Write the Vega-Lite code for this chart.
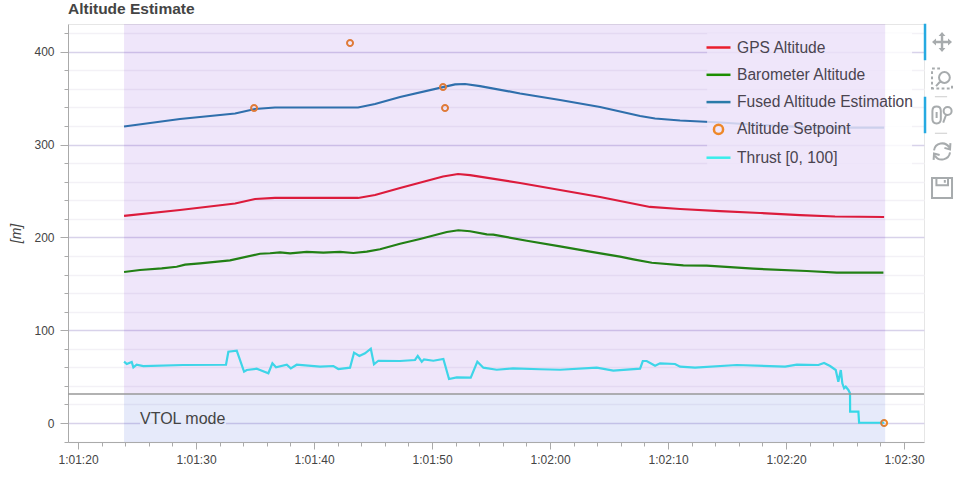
{
  "$schema": "https://vega.github.io/schema/vega-lite/v6.json",
  "description": "Altitude estimate over flight time with a plot toolbar.",
  "background": "white",
  "padding": {"left": 9, "top": 1, "right": 0, "bottom": 0},
  "spacing": 0,
  "bounds": "flush",
  "resolve": {"scale": {"color": "independent", "shape": "independent", "fill": "independent"}, "legend": {"color": "independent", "shape": "independent"}},
  "datasets": {
    "series": [
      {"t": 3683.9, "value": 223.1, "series": "GPS Altitude"},
      {"t": 3688.64, "value": 229.5, "series": "GPS Altitude"},
      {"t": 3693.31, "value": 236.5, "series": "GPS Altitude"},
      {"t": 3695.0, "value": 241.4, "series": "GPS Altitude"},
      {"t": 3696.69, "value": 242.5, "series": "GPS Altitude"},
      {"t": 3703.73, "value": 242.5, "series": "GPS Altitude"},
      {"t": 3705.17, "value": 245.7, "series": "GPS Altitude"},
      {"t": 3707.29, "value": 253.2, "series": "GPS Altitude"},
      {"t": 3710.93, "value": 265.6, "series": "GPS Altitude"},
      {"t": 3712.2, "value": 268.3, "series": "GPS Altitude"},
      {"t": 3713.22, "value": 267.2, "series": "GPS Altitude"},
      {"t": 3717.46, "value": 258.6, "series": "GPS Altitude"},
      {"t": 3724.24, "value": 243.5, "series": "GPS Altitude"},
      {"t": 3728.47, "value": 232.8, "series": "GPS Altitude"},
      {"t": 3731.02, "value": 230.6, "series": "GPS Altitude"},
      {"t": 3734.41, "value": 228.4, "series": "GPS Altitude"},
      {"t": 3737.8, "value": 226.3, "series": "GPS Altitude"},
      {"t": 3741.19, "value": 224.1, "series": "GPS Altitude"},
      {"t": 3744.15, "value": 222.5, "series": "GPS Altitude"},
      {"t": 3748.31, "value": 222, "series": "GPS Altitude"},
      {"t": 3683.9, "value": 162.7, "series": "Barometer Altitude"},
      {"t": 3685.25, "value": 164.9, "series": "Barometer Altitude"},
      {"t": 3687.09, "value": 166.7, "series": "Barometer Altitude"},
      {"t": 3688.36, "value": 168.4, "series": "Barometer Altitude"},
      {"t": 3689.07, "value": 170.6, "series": "Barometer Altitude"},
      {"t": 3690.34, "value": 172.1, "series": "Barometer Altitude"},
      {"t": 3692.88, "value": 175.3, "series": "Barometer Altitude"},
      {"t": 3695.42, "value": 182.4, "series": "Barometer Altitude"},
      {"t": 3696.27, "value": 182.9, "series": "Barometer Altitude"},
      {"t": 3697.12, "value": 183.9, "series": "Barometer Altitude"},
      {"t": 3697.97, "value": 182.9, "series": "Barometer Altitude"},
      {"t": 3699.38, "value": 184.3, "series": "Barometer Altitude"},
      {"t": 3700.79, "value": 183.5, "series": "Barometer Altitude"},
      {"t": 3702.2, "value": 184.3, "series": "Barometer Altitude"},
      {"t": 3703.33, "value": 183.2, "series": "Barometer Altitude"},
      {"t": 3704.47, "value": 184.6, "series": "Barometer Altitude"},
      {"t": 3705.59, "value": 187.2, "series": "Barometer Altitude"},
      {"t": 3707.29, "value": 193.2, "series": "Barometer Altitude"},
      {"t": 3708.98, "value": 198.3, "series": "Barometer Altitude"},
      {"t": 3711.25, "value": 205.8, "series": "Barometer Altitude"},
      {"t": 3712.23, "value": 207.7, "series": "Barometer Altitude"},
      {"t": 3713.22, "value": 206.6, "series": "Barometer Altitude"},
      {"t": 3714.64, "value": 203.3, "series": "Barometer Altitude"},
      {"t": 3715.19, "value": 202.9, "series": "Barometer Altitude"},
      {"t": 3718.03, "value": 196.4, "series": "Barometer Altitude"},
      {"t": 3720.85, "value": 190.4, "series": "Barometer Altitude"},
      {"t": 3723.39, "value": 184.6, "series": "Barometer Altitude"},
      {"t": 3725.93, "value": 179.2, "series": "Barometer Altitude"},
      {"t": 3727.06, "value": 176.4, "series": "Barometer Altitude"},
      {"t": 3728.62, "value": 172.7, "series": "Barometer Altitude"},
      {"t": 3731.3, "value": 169.9, "series": "Barometer Altitude"},
      {"t": 3733.28, "value": 169.5, "series": "Barometer Altitude"},
      {"t": 3737.23, "value": 166.3, "series": "Barometer Altitude"},
      {"t": 3741.75, "value": 163.8, "series": "Barometer Altitude"},
      {"t": 3744.3, "value": 162, "series": "Barometer Altitude"},
      {"t": 3748.25, "value": 162, "series": "Barometer Altitude"},
      {"t": 3683.9, "value": 319.5, "series": "Fused Altitude Estimation"},
      {"t": 3688.64, "value": 327.6, "series": "Fused Altitude Estimation"},
      {"t": 3693.31, "value": 333.5, "series": "Fused Altitude Estimation"},
      {"t": 3695.0, "value": 338.4, "series": "Fused Altitude Estimation"},
      {"t": 3696.69, "value": 340, "series": "Fused Altitude Estimation"},
      {"t": 3698.81, "value": 340, "series": "Fused Altitude Estimation"},
      {"t": 3703.73, "value": 340, "series": "Fused Altitude Estimation"},
      {"t": 3705.17, "value": 343.8, "series": "Fused Altitude Estimation"},
      {"t": 3707.29, "value": 351.3, "series": "Fused Altitude Estimation"},
      {"t": 3710.93, "value": 362, "series": "Fused Altitude Estimation"},
      {"t": 3711.95, "value": 364.8, "series": "Fused Altitude Estimation"},
      {"t": 3712.8, "value": 365.3, "series": "Fused Altitude Estimation"},
      {"t": 3714.07, "value": 363.1, "series": "Fused Altitude Estimation"},
      {"t": 3717.46, "value": 355.1, "series": "Fused Altitude Estimation"},
      {"t": 3720.85, "value": 348.1, "series": "Fused Altitude Estimation"},
      {"t": 3724.24, "value": 340.5, "series": "Fused Altitude Estimation"},
      {"t": 3727.63, "value": 330.8, "series": "Fused Altitude Estimation"},
      {"t": 3728.9, "value": 328.1, "series": "Fused Altitude Estimation"},
      {"t": 3731.02, "value": 326, "series": "Fused Altitude Estimation"},
      {"t": 3734.41, "value": 323.8, "series": "Fused Altitude Estimation"},
      {"t": 3737.8, "value": 321.1, "series": "Fused Altitude Estimation"},
      {"t": 3741.19, "value": 319, "series": "Fused Altitude Estimation"},
      {"t": 3743.73, "value": 318.4, "series": "Fused Altitude Estimation"},
      {"t": 3748.31, "value": 318.4, "series": "Fused Altitude Estimation"},
      {"t": 3683.9, "value": 66.1, "series": "Thrust [0, 100]"},
      {"t": 3684.13, "value": 63.6, "series": "Thrust [0, 100]"},
      {"t": 3684.55, "value": 65.7, "series": "Thrust [0, 100]"},
      {"t": 3684.69, "value": 60, "series": "Thrust [0, 100]"},
      {"t": 3684.97, "value": 62.8, "series": "Thrust [0, 100]"},
      {"t": 3685.53, "value": 61.4, "series": "Thrust [0, 100]"},
      {"t": 3688.9, "value": 62.5, "series": "Thrust [0, 100]"},
      {"t": 3692.54, "value": 62.8, "series": "Thrust [0, 100]"},
      {"t": 3692.74, "value": 76.8, "series": "Thrust [0, 100]"},
      {"t": 3693.45, "value": 77.9, "series": "Thrust [0, 100]"},
      {"t": 3694.07, "value": 55.3, "series": "Thrust [0, 100]"},
      {"t": 3694.3, "value": 57.1, "series": "Thrust [0, 100]"},
      {"t": 3695.14, "value": 58.5, "series": "Thrust [0, 100]"},
      {"t": 3695.42, "value": 57.1, "series": "Thrust [0, 100]"},
      {"t": 3696.13, "value": 53.6, "series": "Thrust [0, 100]"},
      {"t": 3696.47, "value": 64.3, "series": "Thrust [0, 100]"},
      {"t": 3696.78, "value": 60, "series": "Thrust [0, 100]"},
      {"t": 3697.69, "value": 62.8, "series": "Thrust [0, 100]"},
      {"t": 3698.03, "value": 58.9, "series": "Thrust [0, 100]"},
      {"t": 3698.53, "value": 62.8, "series": "Thrust [0, 100]"},
      {"t": 3700.51, "value": 60.7, "series": "Thrust [0, 100]"},
      {"t": 3701.64, "value": 61.4, "series": "Thrust [0, 100]"},
      {"t": 3702.06, "value": 58.2, "series": "Thrust [0, 100]"},
      {"t": 3703.05, "value": 59.6, "series": "Thrust [0, 100]"},
      {"t": 3703.39, "value": 75.8, "series": "Thrust [0, 100]"},
      {"t": 3703.84, "value": 72.2, "series": "Thrust [0, 100]"},
      {"t": 3704.32, "value": 75.1, "series": "Thrust [0, 100]"},
      {"t": 3704.81, "value": 80.1, "series": "Thrust [0, 100]"},
      {"t": 3705.08, "value": 63.3, "series": "Thrust [0, 100]"},
      {"t": 3705.45, "value": 67.1, "series": "Thrust [0, 100]"},
      {"t": 3707.29, "value": 66.8, "series": "Thrust [0, 100]"},
      {"t": 3708.56, "value": 67.9, "series": "Thrust [0, 100]"},
      {"t": 3708.79, "value": 72.2, "series": "Thrust [0, 100]"},
      {"t": 3709.13, "value": 66.1, "series": "Thrust [0, 100]"},
      {"t": 3709.32, "value": 68.6, "series": "Thrust [0, 100]"},
      {"t": 3710.11, "value": 67.1, "series": "Thrust [0, 100]"},
      {"t": 3710.96, "value": 69, "series": "Thrust [0, 100]"},
      {"t": 3711.44, "value": 47.4, "series": "Thrust [0, 100]"},
      {"t": 3712.09, "value": 49.2, "series": "Thrust [0, 100]"},
      {"t": 3713.28, "value": 48.8, "series": "Thrust [0, 100]"},
      {"t": 3713.84, "value": 66.1, "series": "Thrust [0, 100]"},
      {"t": 3714.35, "value": 59.6, "series": "Thrust [0, 100]"},
      {"t": 3715.48, "value": 57.4, "series": "Thrust [0, 100]"},
      {"t": 3716.86, "value": 58.9, "series": "Thrust [0, 100]"},
      {"t": 3719.15, "value": 57.9, "series": "Thrust [0, 100]"},
      {"t": 3720.85, "value": 57.4, "series": "Thrust [0, 100]"},
      {"t": 3723.96, "value": 59.6, "series": "Thrust [0, 100]"},
      {"t": 3725.36, "value": 56.4, "series": "Thrust [0, 100]"},
      {"t": 3727.63, "value": 58.5, "series": "Thrust [0, 100]"},
      {"t": 3727.86, "value": 66.8, "series": "Thrust [0, 100]"},
      {"t": 3728.19, "value": 66.8, "series": "Thrust [0, 100]"},
      {"t": 3728.9, "value": 61.7, "series": "Thrust [0, 100]"},
      {"t": 3729.32, "value": 64.3, "series": "Thrust [0, 100]"},
      {"t": 3730.59, "value": 63.6, "series": "Thrust [0, 100]"},
      {"t": 3731.02, "value": 60.7, "series": "Thrust [0, 100]"},
      {"t": 3732.29, "value": 59.6, "series": "Thrust [0, 100]"},
      {"t": 3735.82, "value": 62.5, "series": "Thrust [0, 100]"},
      {"t": 3739.92, "value": 60.7, "series": "Thrust [0, 100]"},
      {"t": 3740.91, "value": 62.8, "series": "Thrust [0, 100]"},
      {"t": 3742.74, "value": 62.5, "series": "Thrust [0, 100]"},
      {"t": 3743.22, "value": 64.7, "series": "Thrust [0, 100]"},
      {"t": 3743.73, "value": 61.4, "series": "Thrust [0, 100]"},
      {"t": 3744.21, "value": 57.1, "series": "Thrust [0, 100]"},
      {"t": 3744.43, "value": 44.5, "series": "Thrust [0, 100]"},
      {"t": 3744.64, "value": 57.1, "series": "Thrust [0, 100]"},
      {"t": 3744.77, "value": 42.8, "series": "Thrust [0, 100]"},
      {"t": 3744.92, "value": 37.4, "series": "Thrust [0, 100]"},
      {"t": 3745.06, "value": 39.1, "series": "Thrust [0, 100]"},
      {"t": 3745.28, "value": 35.6, "series": "Thrust [0, 100]"},
      {"t": 3745.42, "value": 32, "series": "Thrust [0, 100]"},
      {"t": 3745.43, "value": 12.2, "series": "Thrust [0, 100]"},
      {"t": 3746.13, "value": 12.2, "series": "Thrust [0, 100]"},
      {"t": 3746.19, "value": 0.3, "series": "Thrust [0, 100]"},
      {"t": 3748.31, "value": 0.3, "series": "Thrust [0, 100]"},
      {"t": 3694.92, "value": 339.4, "series": "Altitude Setpoint"},
      {"t": 3703.05, "value": 409.5, "series": "Altitude Setpoint"},
      {"t": 3710.93, "value": 362.1, "series": "Altitude Setpoint"},
      {"t": 3711.1, "value": 339.4, "series": "Altitude Setpoint"},
      {"t": 3748.31, "value": 0, "series": "Altitude Setpoint"}
    ],
    "modes": [
      {"mode": "Fixed wing", "start": 3683.9, "end": 3748.4, "low": 31.25, "high": 429.96},
      {"mode": "VTOL", "start": 3683.9, "end": 3748.4, "low": -20.47, "high": 31.25}
    ],
    "tools": [
      {"tool": "pan", "slot": 0},
      {"tool": "box zoom", "slot": 1},
      {"tool": "wheel zoom", "slot": 2},
      {"tool": "reset", "slot": 3},
      {"tool": "save", "slot": 4}
    ],
    "active": [
      {"tool": "pan", "from": -0.5, "to": 0.5},
      {"tool": "wheel zoom", "from": 1.5, "to": 2.5}
    ],
    "separators": [{"slot": 1.5}, {"slot": 2.5}]
  },
  "hconcat": [
    {
      "width": 856,
      "height": 418,
      "title": {"text": "Altitude Estimate", "anchor": "start", "frame": "group", "fontSize": 15.5, "fontWeight": "bold", "color": "#444444", "offset": 6.5},
      "resolve": {"axis": {"x": "independent", "y": "independent"}},
      "layer": [
        {
          "data": {"values": [{"t": 3700, "value": 100}]},
          "mark": {"type": "point", "opacity": 0},
          "encoding": {
            "x": {
              "field": "t", "type": "quantitative", "title": null,
              "scale": {"domain": [3679.15, 3751.69], "nice": false, "zero": false},
              "axis": {"orient": "bottom", "values": [3680, 3682, 3684, 3686, 3688, 3690, 3692, 3694, 3696, 3698, 3700, 3702, 3704, 3706, 3708, 3710, 3712, 3714, 3716, 3718, 3720, 3722, 3724, 3726, 3728, 3730, 3732, 3734, 3736, 3738, 3740, 3742, 3744, 3746, 3748, 3750], "labels": false, "domain": false, "grid": false, "tickSize": 4, "tickColor": "#aaaaaa"}
            },
            "y": {
              "field": "value", "type": "quantitative", "title": null,
              "scale": {"domain": [-20.47, 429.96], "nice": false, "zero": false},
              "axis": {"orient": "left", "values": [-20, 20, 40, 60, 80, 120, 140, 160, 180, 220, 240, 260, 280, 320, 340, 360, 380, 420], "labels": false, "domain": false, "grid": true, "gridColor": "#f3f1f6", "gridWidth": 1.5, "tickSize": 4, "tickColor": "#aaaaaa"}
            }
          }
        },
        {
          "data": {"name": "series"},
          "transform": [{"filter": "datum.series !== 'Altitude Setpoint'"}],
          "mark": {"type": "line", "strokeWidth": 2.2, "clip": true},
          "encoding": {
            "x": {
              "field": "t", "type": "quantitative", "title": null,
              "scale": {"domain": [3679.15, 3751.69], "nice": false, "zero": false},
              "axis": {"orient": "bottom", "values": [3680, 3690, 3700, 3710, 3720, 3730, 3740, 3750], "labelExpr": "utcFormat(datum.value * 1000, '%-H:%M:%S')", "grid": false, "tickSize": 7, "tickColor": "#aaaaaa", "domainColor": "#aaaaaa", "labelFontSize": 12, "labelColor": "#444444", "labelPadding": 5, "labelFlush": false}
            },
            "y": {
              "field": "value", "type": "quantitative", "title": "[m]",
              "scale": {"domain": [-20.47, 429.96], "nice": false, "zero": false},
              "axis": {"orient": "left", "values": [0, 100, 200, 300, 400], "grid": true, "gridColor": "#d8d2ea", "gridWidth": 1.5, "tickSize": 8, "tickColor": "#aaaaaa", "domainColor": "#aaaaaa", "labelFontSize": 12, "labelColor": "#444444", "labelPadding": 6, "titleFontSize": 14, "titleFontStyle": "italic", "titleFontWeight": "normal", "titleColor": "#444444", "titlePadding": 10}
            },
            "color": {
              "field": "series", "type": "nominal",
              "scale": {"domain": ["GPS Altitude", "Barometer Altitude", "Fused Altitude Estimation", "Altitude Setpoint", "Thrust [0, 100]"], "range": ["#ea1e2c", "#1b8e00", "#2a7ba9", "#ee8829", "#3aedeb"]},
              "legend": {"title": null, "orient": "none", "legendX": 637, "legendY": 10, "symbolSize": 576, "symbolStrokeWidth": 2.5, "labelFontSize": 15.6, "labelColor": "#4a4450", "labelOffset": 5, "rowPadding": 4.3, "labelLimit": 300}
            }
          }
        },
        {
          "data": {"name": "series"},
          "transform": [{"filter": "datum.series === 'Altitude Setpoint'"}],
          "mark": {"type": "point", "filled": false, "size": 250, "strokeWidth": 2, "opacity": 1},
          "encoding": {
            "x": {"field": "t", "type": "quantitative", "axis": null},
            "y": {"field": "value", "type": "quantitative", "axis": null},
            "color": {"field": "series", "type": "nominal", "legend": {"title": null, "orient": "none", "legendX": 637, "legendY": 10, "symbolSize": 576, "symbolStrokeWidth": 2.5, "labelFontSize": 15.6, "labelColor": "#4a4450", "labelOffset": 5, "rowPadding": 4.3, "labelLimit": 300}},
            "shape": {
              "field": "series", "type": "nominal",
              "scale": {"domain": ["GPS Altitude", "Barometer Altitude", "Fused Altitude Estimation", "Altitude Setpoint", "Thrust [0, 100]"], "range": ["stroke", "stroke", "stroke", "M-0.38,0A0.38,0.38 0 1,1 0.38,0A0.38,0.38 0 1,1 -0.38,0Z", "stroke"]},
              "legend": {"title": null, "orient": "none", "legendX": 637, "legendY": 10, "symbolSize": 576, "symbolStrokeWidth": 2.5, "labelFontSize": 15.6, "labelColor": "#4a4450", "labelOffset": 5, "rowPadding": 4.3, "labelLimit": 300}
            }
          }
        },
        {
          "data": {"values": [{"panel": "legend"}]},
          "mark": {"type": "rect", "color": "white", "opacity": 0.82},
          "encoding": {
            "x": {"datum": 3733.31, "type": "quantitative", "axis": null},
            "x2": {"datum": 3750.68},
            "y": {"datum": 420.3, "type": "quantitative", "axis": null},
            "y2": {"datum": 272.6}
          }
        },
        {
          "data": {"values": [{"panel": "label"}]},
          "mark": {"type": "rect", "color": "white", "opacity": 0.82},
          "encoding": {
            "x": {"datum": 3685.25, "type": "quantitative", "axis": null},
            "x2": {"datum": 3692.54},
            "y": {"datum": 13, "type": "quantitative", "axis": null},
            "y2": {"datum": -3}
          }
        },
        {
          "data": {"name": "modes"},
          "mark": {"type": "rect", "opacity": 0.1},
          "encoding": {
            "x": {"field": "start", "type": "quantitative", "axis": null},
            "x2": {"field": "end"},
            "y": {"field": "low", "type": "quantitative", "axis": null},
            "y2": {"field": "high"},
            "fill": {"field": "mode", "type": "nominal", "legend": null, "scale": {"domain": ["Fixed wing", "VTOL"], "range": ["#5f05cd", "#052dcd"]}}
          }
        },
        {
          "data": {"values": [{"label": "VTOL mode"}]},
          "mark": {"type": "text", "align": "left", "baseline": "middle", "fontSize": 16, "color": "#444444"},
          "encoding": {
            "x": {"datum": 3685.25, "type": "quantitative", "axis": null},
            "y": {"datum": 4, "type": "quantitative", "axis": null},
            "text": {"field": "label"}
          }
        },
        {
          "data": {"values": [{"boundary": "mode change"}]},
          "mark": {"type": "rule", "color": "#999999", "strokeWidth": 1.5},
          "encoding": {"y": {"datum": 31.25, "type": "quantitative", "axis": null}}
        }
      ]
    },
    {
      "width": 34,
      "height": 418,
      "view": {"stroke": null},
      "layer": [
        {
          "data": {"name": "active"},
          "mark": {"type": "rule", "color": "#26aae1", "strokeWidth": 2.5},
          "encoding": {
            "x": {"datum": 0.03, "type": "quantitative", "axis": null, "scale": {"domain": [0, 1]}},
            "y": {"field": "from", "type": "quantitative", "axis": null, "scale": {"domain": [-0.493, 10.96], "reverse": true, "nice": false, "zero": false}},
            "y2": {"field": "to"}
          }
        },
        {
          "data": {"name": "separators"},
          "mark": {"type": "rule", "color": "#cccccc", "strokeWidth": 1},
          "encoding": {
            "x": {"datum": 0.32, "type": "quantitative", "axis": null},
            "x2": {"datum": 0.68},
            "y": {"field": "slot", "type": "quantitative", "axis": null}
          }
        },
        {
          "data": {"name": "tools"},
          "transform": [{"filter": "datum.tool === 'pan'"}],
          "mark": {"type": "point", "filled": true, "size": 1600, "color": "#a7abad", "opacity": 1},
          "encoding": {
            "x": {"datum": 0.53, "type": "quantitative", "axis": null},
            "y": {"field": "slot", "type": "quantitative", "axis": null},
            "shape": {"field": "tool", "type": "nominal", "legend": null, "scale": {"domain": ["pan", "box zoom", "wheel zoom", "reset", "save"], "range": [
              "M0,-.5L.17,-.3L.06,-.3L.06,-.06L.3,-.06L.3,-.17L.5,0L.3,.17L.3,.06L.06,.06L.06,.3L.17,.3L0,.5L-.17,.3L-.06,.3L-.06,.06L-.3,.06L-.3,.17L-.5,0L-.3,-.17L-.3,-.06L-.06,-.06L-.06,-.3L-.17,-.3Z",
              "M-.5,-.5L-.36,-.5M-.24,-.5L-.1,-.5M-.5,-.36L-.5,-.22M-.5,-.1L-.5,.04M-.5,.16L-.5,.3M-.5,.42L-.5,.5L-.4,.5M-.28,.5L-.14,.5M-.02,.5L.12,.5M.24,.5L.38,.5M.5,.5L.5,.36M.12,-.32A.27,.27 0 1,1 .12,.22A.27,.27 0 1,1 .12,-.32ZM-.08,.14L-.3,.38",
              "M-.48,-.2Q-.48,-.42 -.27,-.42Q-.06,-.42 -.06,-.2L-.06,.2Q-.06,.42 -.27,.42Q-.48,.42 -.48,.2ZM-.27,-.15L-.27,.15M.28,-.4A.2,.2 0 1,1 .28,0A.2,.2 0 1,1 .28,-.4ZM.2,0L.06,.38",
              "M-.4,-.05A.41,.41 0 0 1 .36,-.2M.42,-.42L.4,-.1L.12,-.18M.4,.05A.41,.41 0 0 1 -.36,.2M-.42,.42L-.4,.1L-.12,.18",
              "M-.5,-.5L.5,-.5L.5,.5L-.5,.5ZM-.28,-.5L-.28,-.14L.3,-.14L.3,-.5M.14,-.4L.14,-.26"
            ]}}
          }
        },
        {
          "data": {"name": "tools"},
          "transform": [{"filter": "datum.tool !== 'pan'"}],
          "mark": {"type": "point", "filled": false, "size": 1600, "color": "#a7abad", "strokeWidth": 2, "opacity": 1},
          "encoding": {
            "x": {"datum": 0.53, "type": "quantitative", "axis": null},
            "y": {"field": "slot", "type": "quantitative", "axis": null},
            "shape": {"field": "tool", "type": "nominal", "legend": null}
          }
        }
      ]
    }
  ],
  "config": {
    "font": "Liberation Sans",
    "view": {"stroke": "#e6e6e6"},
    "concat": {"spacing": 0}
  }
}
